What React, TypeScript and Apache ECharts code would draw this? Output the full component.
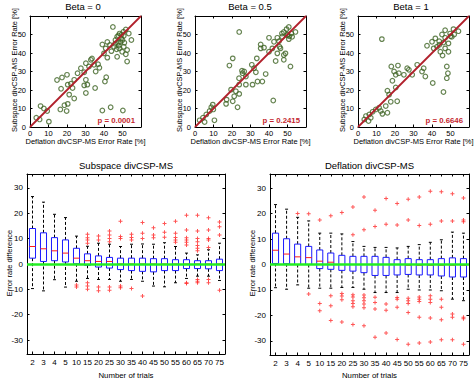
import React, { useEffect, useRef } from 'react';
import * as echarts from 'echarts';

// ---------- Scatter data (Deflation x, Subspace y) ----------
const beta0Deflation = [44.8, 51.8, 48.4, 53.4, 50.7, 47.1, 49.3, 54.8, 46.2, 41.8, 39.1, 43.2, 45.4, 50.7, 48.2, 40.9, 46.8, 52.5, 49.8, 51.8, 47.1, 41.8, 52.5, 40.0, 32.9, 30.2, 34.6, 36.8, 31.9, 35.5, 29.3, 41.2, 40.5, 25.7, 30.2, 29.3, 31.0, 30.2, 35.2, 23.9, 20.0, 17.3, 14.6, 16.8, 20.4, 22.1, 23.0, 21.2, 23.9, 20.4, 18.6, 16.4, 19.8, 5.7, 7.5, 9.3, 3.4, 5.2, 10.2, 39.1, 43.6, 50.2, 27.5, 47.5, 49.0, 50.0, 48.0, 46.0, 51.0, 49.5, 47.8, 50.5, 44.0, 33.5, 37.5];
const beta0Subspace = [54.1, 52.7, 50.5, 50.5, 49.3, 48.8, 47.9, 47.0, 47.0, 46.0, 44.6, 44.3, 43.4, 43.4, 42.5, 42.5, 42.0, 41.6, 40.7, 39.3, 38.0, 37.5, 35.4, 39.8, 36.3, 34.5, 33.6, 33.9, 32.7, 30.0, 29.6, 26.9, 24.6, 29.1, 25.5, 22.5, 22.9, 18.4, 21.1, 25.5, 28.2, 26.8, 25.4, 20.7, 22.9, 23.4, 21.1, 17.5, 15.4, 12.5, 11.8, 9.5, 8.6, 11.3, 10.0, 8.6, 5.0, 4.1, 2.9, 8.9, 10.7, 8.9, 31.8, 45.5, 46.0, 47.0, 44.0, 45.0, 45.5, 50.0, 49.5, 51.5, 41.0, 37.0, 32.0];

const beta05Deflation = [23.9, 50.7, 49.5, 54.3, 48.0, 52.1, 49.8, 47.1, 52.5, 44.5, 40.0, 50.7, 45.4, 42.7, 35.5, 37.3, 41.8, 35.5, 45.7, 40.0, 44.5, 48.0, 46.2, 48.0, 51.6, 43.6, 33.4, 20.4, 18.6, 30.7, 31.9, 25.4, 26.6, 25.7, 32.9, 38.2, 27.5, 23.8, 36.4, 33.8, 31.1, 27.5, 23.9, 19.5, 22.1, 23.9, 21.2, 17.1, 20.4, 16.8, 23.0, 42.3, 9.6, 8.8, 9.9, 7.9, 6.1, 4.3, 2.5, 5.2, 10.5, 48.9, 50.0, 51.0, 47.0];
const beta05Subspace = [51.4, 54.1, 52.9, 51.4, 51.4, 50.5, 49.6, 48.8, 48.8, 48.2, 48.2, 47.5, 46.4, 46.1, 44.6, 42.9, 42.5, 42.5, 43.4, 40.7, 39.8, 38.9, 42.5, 36.3, 32.7, 35.7, 37.1, 37.1, 33.2, 33.6, 31.8, 30.4, 30.0, 29.1, 29.6, 28.6, 27.3, 26.4, 24.6, 24.6, 22.9, 22.9, 22.9, 20.2, 19.3, 17.9, 16.6, 14.8, 13.9, 12.5, 10.7, 14.3, 12.1, 10.7, 9.5, 8.6, 6.8, 5.0, 3.6, 2.7, 3.6, 39.8, 50.0, 49.0, 50.5];

const beta1Deflation = [12.9, 47.1, 51.6, 54.3, 49.8, 45.4, 41.8, 47.1, 50.7, 43.9, 40.0, 46.2, 37.3, 42.7, 48.9, 40.9, 47.1, 44.5, 48.9, 45.7, 48.0, 48.6, 48.0, 46.2, 40.4, 36.4, 34.6, 35.5, 32.0, 26.6, 27.5, 29.3, 18.0, 21.6, 19.5, 22.1, 20.4, 18.6, 24.8, 21.2, 15.9, 16.8, 17.7, 13.2, 15.9, 15.0, 11.4, 9.6, 12.3, 7.9, 6.1, 6.9, 4.3, 3.4, 5.7, 20.4, 50.0, 52.0, 44.0];
const beta1Subspace = [47.5, 52.3, 52.9, 51.8, 50.5, 50.0, 47.9, 48.2, 48.8, 46.4, 46.1, 45.7, 43.9, 43.4, 45.2, 42.5, 42.5, 40.7, 40.7, 38.6, 32.7, 29.1, 26.4, 18.9, 23.8, 27.3, 30.0, 31.8, 33.6, 31.8, 30.9, 28.2, 32.7, 33.2, 30.0, 29.1, 28.2, 25.0, 28.2, 13.9, 19.6, 17.5, 13.6, 7.1, 7.7, 11.3, 10.4, 9.5, 8.6, 8.2, 6.8, 5.0, 5.9, 4.1, 3.2, 21.4, 49.0, 50.0, 44.5];

const pValues = ['p = 0.0001', 'p = 0.2415', 'p = 0.6646'];
const scatterTitles = ['Beta = 0', 'Beta = 0.5', 'Beta = 1'];
const scatterTicks = [0, 10, 20, 30, 40, 50];
const diagonalRange = [0, 60];

// ---------- Box plot data ----------
const trials = ['2', '3', '4', '5', '10', '15', '20', '25', '30', '35', '40', '45', '50', '55', '60', '65', '70', '75'];
const boxTicks = [-30, -20, -10, 0, 10, 20, 30];

const subspaceLow = [-9.7, -10.6, -6.2, -9.1, -6.8, -5.7, -6.1, -6.1, -6.8, -6.1, -6.8, -8.7, -9.0, -7.4, -5.7, -4.8, -4.8, -6.5];
const subspaceQ1 = [2.3, 1.0, 1.3, 0.8, 0.1, -0.5, -1.2, -1.6, -2.2, -2.6, -2.9, -3.1, -2.6, -2.6, -1.8, -1.8, -1.9, -2.6];
const subspaceMedian = [6.9, 6.0, 5.2, 4.3, 2.3, 1.3, 1.0, 1.0, 0, 0, 0, 0, 0, 0, 0, 0, 0, 0];
const subspaceQ3 = [14.0, 12.3, 10.4, 9.5, 6.2, 4.0, 3.2, 2.6, 2.3, 2.3, 2.3, 2.1, 2.1, 1.7, 1.7, 1.3, 1.3, 1.9];
const subspaceHigh = [26.6, 24.4, 19.6, 18.3, 11.0, 7.0, 8.2, 7.8, 6.9, 7.8, 7.9, 7.8, 8.4, 6.9, 4.3, 3.6, 5.6, 8.2];
const subspaceOutliers = [
  [], [], [], [],
  [-8.3, -9.1],
  [11.7, 10.4, 9.5, 8.2, -7.4, -8.7, -10.0],
  [11.0, 9.5, -9.1, -10.6],
  [13.0, 11.4, 10.1, 8.8, -9.1, -10.4],
  [16.9, 10.8, 10.1, -8.7, -9.4],
  [11.7, 10.5, 9.5, -9.7],
  [16.4, 12.1, 10.1, -12.6],
  [14.3, 11.4, 10.4],
  [16.0, 12.5, 10.6],
  [16.9, 12.1, 10.5, 9.5, 8.6],
  [19.2, 13.4, 10.4, 9.5, 8.6, 7.5, -7.4, -7.7],
  [19.2, 13.0, 10.1, 8.8, 7.3, 6.2, 5.2, -6.1, -6.8, -7.4],
  [18.2, 13.4, 10.1, 9.5, 6.5, -6.1, -7.4],
  [16.6, 14.7, 11.4, -10.4],
];

const deflationLow = [-9.1, -9.7, -8.0, -9.3, -9.3, -9.3, -9.0, -9.0, -9.7, -11.0, -11.0, -11.0, -9.7, -10.0, -10.0, -10.3, -13.6, -14.2];
const deflationQ1 = [0.4, 0.3, 0, 0, -1.6, -1.9, -2.3, -2.6, -3.2, -4.3, -4.3, -4.1, -3.9, -4.1, -4.1, -4.5, -4.9, -4.9];
const deflationMedian = [5.6, 4.1, 3.0, 2.7, 1.3, 0.9, 0, 0, 0, 0, 0, 0, -0.3, -0.3, -0.3, -0.3, -0.3, -0.3];
const deflationQ3 = [12.3, 10.1, 8.0, 7.1, 5.7, 4.5, 3.6, 3.2, 3.2, 3.2, 2.8, 1.9, 2.3, 1.9, 1.9, 2.3, 2.6, 2.3];
const deflationHigh = [23.5, 21.7, 18.5, 17.1, 12.3, 12.3, 12.0, 9.0, 7.1, 6.7, 6.7, 6.5, 7.1, 7.8, 8.7, 9.7, 12.7, 12.3];
const deflationOutliers = [
  [], [],
  [20.0],
  [19.9, -11.6],
  [17.5, -15.3, -18.1],
  [19.1, -12.3, -16.2, -22.0],
  [20.4, -11.4, -12.4, -13.8, -22.6],
  [22.6, 11.7, -11.9, -12.7, -14.2, -15.3, -16.6, -23.5],
  [26.5, 13.6, -12.0, -13.0, -14.2, -15.5, -17.0, -24.0],
  [21.3, 14.9, -12.8, -14.9, -17.5, -28.5],
  [25.9, 15.8, -15.5, -17.9, -26.9],
  [23.9, 15.5, -12.9, -13.6, -16.8, -29.4],
  [25.6, 17.5, -13.2, -14.2, -15.3, -18.8, -31.3],
  [26.5, 15.3, -12.7, -13.6, -14.5, -20.7, -30.8],
  [28.7, 15.8, -12.3, -13.6, -14.9, -21.0, -30.4],
  [28.5, 17.1, -13.6, -16.8, -21.7, -29.5],
  [27.8, 17.1, -19.4, -20.7, -29.5],
  [26.1, 17.5, 16.8, -20.7, -21.3, -31.3],
];

const boxTitles = ['Subspace divCSP-MS', 'Deflation divCSP-MS'];

// ---------- Layout ----------
const FONT = '"Liberation Sans", Arial, Helvetica, sans-serif';
const scatterGrids = [
  { left: 30, top: 16, width: 111, height: 111 },
  { left: 195, top: 16, width: 111, height: 111 },
  { left: 358, top: 16, width: 111, height: 111 },
];
const boxGrids = [
  { left: 27, top: 174, width: 198, height: 180 },
  { left: 270, top: 174, width: 199, height: 181 },
];

const axisLine = { show: true, onZero: false, lineStyle: { color: '#000', width: 1 } };
const tickIn = { show: true, inside: true, length: 2.5, lineStyle: { color: '#000', width: 1 } };

function buildOption() {
  const grids: any[] = [];
  const xAxes: any[] = [];
  const yAxes: any[] = [];
  const series: any[] = [];
  const graphics: any[] = [];

  const scatterSets = [
    { x: beta0Deflation, y: beta0Subspace },
    { x: beta05Deflation, y: beta05Subspace },
    { x: beta1Deflation, y: beta1Subspace },
  ];
  const titleCenters = [83, 250, 411];

  scatterSets.forEach((set, i) => {
    const g = scatterGrids[i];
    grids.push({ ...g });
    const xi = xAxes.length;
    const yi = yAxes.length;
    const labelFmt = (v: number) => (scatterTicks.includes(v) ? String(v) : '');
    xAxes.push({
      type: 'value', gridIndex: i, position: 'bottom', min: 0, max: 60, interval: 10,
      axisLine, axisTick: tickIn, splitLine: { show: false },
      axisLabel: { fontSize: 7.5, fontFamily: FONT, color: '#000', margin: 2, formatter: labelFmt },
    });
    xAxes.push({
      type: 'value', gridIndex: i, position: 'top', min: 0, max: 60, interval: 10,
      axisLine, axisTick: tickIn, splitLine: { show: false }, axisLabel: { show: false },
    });
    yAxes.push({
      type: 'value', gridIndex: i, position: 'left', min: 0, max: 60, interval: 10,
      axisLine, axisTick: tickIn, splitLine: { show: false },
      axisLabel: { fontSize: 7.5, fontFamily: FONT, color: '#000', margin: 4, formatter: labelFmt },
    });
    yAxes.push({
      type: 'value', gridIndex: i, position: 'right', min: 0, max: 60, interval: 10,
      axisLine, axisTick: tickIn, splitLine: { show: false }, axisLabel: { show: false },
    });
    series.push({
      type: 'scatter', xAxisIndex: xi, yAxisIndex: yi,
      data: set.x.map((v, k) => [v, set.y[k]]),
      symbol: 'circle', symbolSize: 4.6,
      itemStyle: { color: 'rgba(0,0,0,0)', borderColor: '#3e6424', borderWidth: 1.2 },
      z: 2,
    });
    series.push({
      type: 'line', xAxisIndex: xi, yAxisIndex: yi,
      data: diagonalRange.map((v) => [v, v]),
      symbol: 'none', lineStyle: { color: '#b1202b', width: 1.8 }, z: 3,
    });

    const cx = titleCenters[i];
    graphics.push({
      type: 'text', x: cx, y: 6,
      style: { text: scatterTitles[i], fontSize: 9.5, fontFamily: FONT, fill: '#000', align: 'center', verticalAlign: 'middle' },
    });
    graphics.push({
      type: 'text', x: g.left + g.width / 2, y: 141,
      style: { text: 'Deflation divCSP-MS Error Rate [%]', fontSize: 7.5, fontFamily: FONT, fill: '#000', align: 'center', verticalAlign: 'middle' },
    });
    graphics.push({
      type: 'text', x: g.left - 15.5, y: 70, rotation: Math.PI / 2,
      style: { text: 'Subspace divCSP-MS Error Rate [%]', fontSize: 7.5, fontFamily: FONT, fill: '#000', align: 'center', verticalAlign: 'middle' },
    });
    graphics.push({
      type: 'text', x: g.left + g.width - 6, y: 120,
      style: { text: pValues[i], fontSize: 7.8, fontWeight: 'bold', fontFamily: FONT, fill: '#c4262e', align: 'right', verticalAlign: 'middle' },
    });
  });

  const boxSets = [
    { low: subspaceLow, q1: subspaceQ1, med: subspaceMedian, q3: subspaceQ3, high: subspaceHigh, out: subspaceOutliers },
    { low: deflationLow, q1: deflationQ1, med: deflationMedian, q3: deflationQ3, high: deflationHigh, out: deflationOutliers },
  ];

  const renderBox = (_params: any, api: any) => {
    const idx = api.value(0);
    const low = api.coord([idx, api.value(1)]);
    const q1 = api.coord([idx, api.value(2)]);
    const med = api.coord([idx, api.value(3)]);
    const q3 = api.coord([idx, api.value(4)]);
    const high = api.coord([idx, api.value(5)]);
    const band = api.size([1, 0])[0];
    const bw = band * 0.55;
    const cw = band * 0.27;
    const cx = q1[0];
    const whisker = { stroke: '#000', lineWidth: 1, lineDash: [3, 2] };
    const solid = { stroke: '#000', lineWidth: 1 };
    return {
      type: 'group',
      children: [
        { type: 'line', shape: { x1: cx, y1: q3[1], x2: cx, y2: high[1] }, style: whisker },
        { type: 'line', shape: { x1: cx, y1: q1[1], x2: cx, y2: low[1] }, style: whisker },
        { type: 'line', shape: { x1: cx - cw / 2, y1: high[1], x2: cx + cw / 2, y2: high[1] }, style: solid },
        { type: 'line', shape: { x1: cx - cw / 2, y1: low[1], x2: cx + cw / 2, y2: low[1] }, style: solid },
        { type: 'rect', shape: { x: cx - bw / 2, y: q3[1], width: bw, height: q1[1] - q3[1] }, style: { fill: 'none', stroke: '#1a1aff', lineWidth: 1 } },
        { type: 'line', shape: { x1: cx - bw / 2, y1: med[1], x2: cx + bw / 2, y2: med[1] }, style: { stroke: '#ff1a1a', lineWidth: 1 } },
      ],
    };
  };

  boxSets.forEach((set, b) => {
    const g = boxGrids[b];
    const gi = grids.length;
    grids.push({ ...g });
    const xi = xAxes.length;
    const yi = yAxes.length;
    xAxes.push({
      type: 'category', gridIndex: gi, position: 'bottom', data: trials, boundaryGap: true,
      axisLine, axisTick: { ...tickIn, alignWithLabel: true, interval: 0 }, splitLine: { show: false },
      axisLabel: { fontSize: 8, fontFamily: FONT, color: '#000', margin: 4, interval: 0 },
    });
    xAxes.push({
      type: 'category', gridIndex: gi, position: 'top', data: trials, boundaryGap: true,
      axisLine, axisTick: { ...tickIn, alignWithLabel: true, interval: 0 }, splitLine: { show: false },
      axisLabel: { show: false },
    });
    yAxes.push({
      type: 'value', gridIndex: gi, position: 'left', min: -35.5, max: 35.5,
      axisLine, axisTick: { ...tickIn, customValues: boxTicks }, splitLine: { show: false },
      axisLabel: { fontSize: 8, fontFamily: FONT, color: '#000', margin: 4, customValues: boxTicks },
    });
    yAxes.push({
      type: 'value', gridIndex: gi, position: 'right', min: -35.5, max: 35.5,
      axisLine, axisTick: { ...tickIn, customValues: boxTicks }, splitLine: { show: false },
      axisLabel: { show: false },
    });
    series.push({
      type: 'custom', xAxisIndex: xi, yAxisIndex: yi,
      data: trials.map((_, k) => [k, set.low[k], set.q1[k], set.med[k], set.q3[k], set.high[k]]),
      encode: { x: 0, y: [1, 2, 3, 4, 5] },
      renderItem: renderBox, z: 2,
    });
    series.push({
      type: 'scatter', xAxisIndex: xi, yAxisIndex: yi,
      data: set.out.flatMap((vals, k) => vals.map((v) => [k, v])),
      symbol: 'path://M3,0H5V3H8V5H5V8H3V5H0V3H3Z', symbolSize: 4,
      itemStyle: { color: '#ff2a2a' },
      z: 3,
      markLine: {
        silent: true, symbol: ['none', 'none'], label: { show: false },
        lineStyle: { color: '#22ee22', width: 2.5, type: 'solid' },
        data: [{ yAxis: 0 }],
      },
    });

    const cx = g.left + g.width / 2;
    graphics.push({
      type: 'text', x: cx, y: 165,
      style: { text: boxTitles[b], fontSize: 9.5, fontFamily: FONT, fill: '#000', align: 'center', verticalAlign: 'middle' },
    });
    graphics.push({
      type: 'text', x: cx, y: 375.5,
      style: { text: 'Number of trials', fontSize: 7.8, fontFamily: FONT, fill: '#000', align: 'center', verticalAlign: 'middle' },
    });
    graphics.push({
      type: 'text', x: g.left - 18, y: 263, rotation: Math.PI / 2,
      style: { text: 'Error rate difference', fontSize: 7.5, fontFamily: FONT, fill: '#000', align: 'center', verticalAlign: 'middle' },
    });
  });

  return {
    animation: false,
    backgroundColor: '#fff',
    textStyle: { fontFamily: FONT },
    grid: grids,
    xAxis: xAxes,
    yAxis: yAxes,
    series,
    graphic: graphics,
  };
}

export default function App() {
  const ref = useRef<HTMLDivElement>(null);
  useEffect(() => {
    if (!ref.current) return;
    const chart = echarts.init(ref.current, null, { renderer: 'svg' });
    chart.setOption(buildOption() as any);
    return () => chart.dispose();
  }, []);
  return (
    <div
      ref={ref}
      style={{ position: 'fixed', left: 0, top: 0, width: 474, height: 380, background: '#fff' }}
    />
  );
}
